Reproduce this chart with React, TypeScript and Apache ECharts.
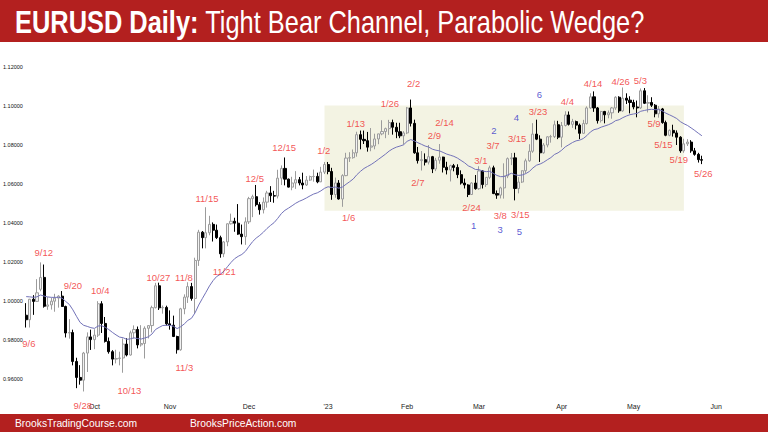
import React, { useEffect, useRef } from "react";
import * as echarts from "echarts";

// Daily bars [open, high, low, close], one per weekday
const sep22 = [
  [0.9927, 0.9989, 0.9864, 0.9904], [0.9904, 1.0011, 0.9864, 1.0009], [1.0009, 1.003, 0.9929, 0.9998],
  [0.9998, 1.0112, 0.9995, 1.0042], [1.006, 1.0198, 1.005, 1.0121], [1.0121, 1.0187, 0.9966, 0.9973],
  [0.9973, 1.002, 0.9955, 0.998], [0.998, 1.0017, 0.9956, 0.9999], [0.9999, 1.0037, 0.9945, 1.0015],
  [1.0015, 1.003, 0.9966, 1.0025], [1.0025, 1.0051, 0.997, 0.9972], [0.9972, 0.9976, 0.9813, 0.9836],
  [0.9836, 0.9907, 0.9807, 0.9838], [0.9838, 0.9853, 0.967, 0.969], [0.969, 0.9709, 0.9553, 0.9608],
  [0.9608, 0.9671, 0.9571, 0.9594], [0.9594, 0.9739, 0.9536, 0.9733], [0.9733, 0.9839, 0.9636, 0.9816],
  [0.9816, 0.9853, 0.9749, 0.9802],
];
const oct22 = [
  [0.9802, 0.9855, 0.9753, 0.9825], [0.9825, 0.9999, 0.9815, 0.9986], [0.9986, 0.9999, 0.9836, 0.9885],
  [0.9885, 0.9918, 0.9787, 0.9793], [0.9793, 0.9813, 0.973, 0.974], [0.974, 0.9748, 0.967, 0.9702],
  [0.9702, 0.975, 0.968, 0.9705], [0.9705, 0.974, 0.967, 0.9708], [0.9708, 0.9808, 0.9632, 0.9779],
  [0.9779, 0.9809, 0.9716, 0.9723], [0.9723, 0.9848, 0.972, 0.9837], [0.9837, 0.9875, 0.9808, 0.9854],
  [0.9854, 0.9869, 0.9757, 0.9775], [0.9775, 0.9876, 0.9766, 0.9782], [0.9782, 0.987, 0.9705, 0.986],
  [0.986, 0.9875, 0.9808, 0.9874], [0.9874, 0.9976, 0.9839, 0.9966], [0.9966, 1.0093, 0.9962, 1.0078],
  [1.0078, 1.0094, 0.9954, 0.9965], [0.9965, 0.9977, 0.9935, 0.9967], [0.9967, 0.9976, 0.9874, 0.9883],
];
const nov22 = [
  [0.9883, 0.9952, 0.9853, 0.9876], [0.9876, 0.9925, 0.9815, 0.9818], [0.9818, 0.9822, 0.973, 0.975],
  [0.975, 0.9965, 0.9745, 0.996], [0.996, 1.0034, 0.9932, 1.002], [1.002, 1.0096, 0.999, 1.0074],
  [1.0074, 1.0093, 1.0002, 1.0013], [1.0013, 1.0222, 0.9935, 1.0208], [1.0208, 1.0365, 1.018, 1.0353],
  [1.0353, 1.0359, 1.027, 1.0325], [1.0325, 1.0481, 1.027, 1.035], [1.035, 1.0437, 1.0337, 1.0393],
  [1.0393, 1.0403, 1.0305, 1.0363], [1.0363, 1.0392, 1.0318, 1.0325], [1.0325, 1.0335, 1.0222, 1.0242],
  [1.0242, 1.0307, 1.0225, 1.0303], [1.0303, 1.0398, 1.0281, 1.0396], [1.0396, 1.0448, 1.0392, 1.0409],
  [1.0409, 1.0427, 1.0355, 1.0399], [1.0399, 1.0497, 1.0339, 1.0343], [1.0343, 1.0392, 1.029, 1.033],
  [1.033, 1.0429, 1.0288, 1.0406],
];
const dec22 = [
  [1.0406, 1.0534, 1.0395, 1.0525], [1.0525, 1.0545, 1.043, 1.0535], [1.0535, 1.0595, 1.0485, 1.0494],
  [1.0494, 1.0507, 1.0443, 1.0468], [1.0468, 1.0531, 1.0449, 1.0507], [1.0507, 1.0565, 1.0479, 1.0554],
  [1.0554, 1.0589, 1.0508, 1.054], [1.054, 1.0565, 1.0504, 1.0538], [1.0538, 1.0673, 1.0526, 1.063],
  [1.063, 1.0695, 1.0595, 1.068], [1.068, 1.0736, 1.0593, 1.0625], [1.0625, 1.0628, 1.0582, 1.0584],
  [1.0584, 1.0637, 1.0568, 1.0605], [1.0605, 1.0666, 1.0575, 1.0622], [1.0622, 1.0636, 1.0593, 1.0605],
  [1.0605, 1.0658, 1.0573, 1.0595], [1.0595, 1.0641, 1.059, 1.062], [1.062, 1.0643, 1.0616, 1.0638],
  [1.0638, 1.0674, 1.0612, 1.0639], [1.0639, 1.0658, 1.0604, 1.0611], [1.0611, 1.0688, 1.061, 1.0661],
  [1.0661, 1.0713, 1.0651, 1.07],
];
const jan23 = [
  [1.07, 1.0713, 1.065, 1.0664], [1.0664, 1.0683, 1.0519, 1.0546], [1.0546, 1.0633, 1.053, 1.0605],
  [1.0605, 1.062, 1.052, 1.0523], [1.0523, 1.065, 1.0483, 1.0643], [1.0643, 1.076, 1.064, 1.0733],
  [1.0733, 1.0763, 1.0713, 1.0735], [1.0735, 1.0777, 1.073, 1.076], [1.076, 1.0868, 1.074, 1.0853],
  [1.0853, 1.0874, 1.0778, 1.0829], [1.0829, 1.0874, 1.0805, 1.0822], [1.0822, 1.0867, 1.0766, 1.0789],
  [1.0789, 1.0887, 1.0768, 1.0795], [1.0795, 1.0858, 1.0778, 1.0831], [1.0831, 1.0858, 1.0804, 1.0857],
  [1.0857, 1.0927, 1.085, 1.0869], [1.0869, 1.0889, 1.0835, 1.0884], [1.0884, 1.0929, 1.0852, 1.0915],
  [1.0915, 1.093, 1.0853, 1.0891], [1.0891, 1.0914, 1.0835, 1.0868], [1.0868, 1.0914, 1.0835, 1.0847],
  [1.0847, 1.0871, 1.0802, 1.0862],
];
const feb23 = [
  [1.0862, 1.0995, 1.0856, 1.099], [1.099, 1.1033, 1.0895, 1.0911], [1.0911, 1.093, 1.0755, 1.076],
  [1.076, 1.079, 1.0705, 1.072], [1.072, 1.0769, 1.0669, 1.0725], [1.0725, 1.0757, 1.0695, 1.0712],
  [1.0712, 1.08, 1.07, 1.074], [1.074, 1.0744, 1.0656, 1.0677], [1.0677, 1.0734, 1.0666, 1.0722],
  [1.0722, 1.0805, 1.0704, 1.0738], [1.0738, 1.074, 1.0659, 1.0686], [1.0686, 1.0714, 1.0649, 1.0672],
  [1.0672, 1.0699, 1.0613, 1.0694], [1.0694, 1.0703, 1.0665, 1.0685], [1.0685, 1.0701, 1.063, 1.0648],
  [1.0648, 1.067, 1.0597, 1.0605], [1.0605, 1.0628, 1.0577, 1.0595], [1.0595, 1.0599, 1.0533, 1.0546],
  [1.0546, 1.0609, 1.0544, 1.0605], [1.0605, 1.0646, 1.0571, 1.0576],
];
const mar23 = [
  [1.0576, 1.0691, 1.057, 1.0667], [1.0667, 1.0671, 1.0577, 1.0597], [1.0597, 1.0635, 1.0585, 1.0634],
  [1.0634, 1.0694, 1.0625, 1.0683], [1.0683, 1.0694, 1.0548, 1.0551], [1.0551, 1.0567, 1.0524, 1.0543],
  [1.0543, 1.0586, 1.0526, 1.058], [1.058, 1.0706, 1.0525, 1.0641], [1.0641, 1.0736, 1.063, 1.073],
  [1.073, 1.0759, 1.0697, 1.0734], [1.0734, 1.076, 1.0516, 1.0577], [1.0577, 1.0635, 1.0552, 1.061],
  [1.061, 1.067, 1.0605, 1.0668], [1.0668, 1.073, 1.0654, 1.0719], [1.0719, 1.0804, 1.0714, 1.0768],
  [1.0768, 1.0912, 1.076, 1.0856], [1.0856, 1.093, 1.0825, 1.083], [1.083, 1.085, 1.0713, 1.076],
  [1.076, 1.081, 1.0755, 1.08], [1.08, 1.0845, 1.0788, 1.0842], [1.0842, 1.0852, 1.0812, 1.0843],
  [1.0843, 1.0925, 1.0836, 1.0904], [1.0904, 1.0924, 1.083, 1.084],
];
const apr23 = [
  [1.084, 1.0918, 1.0788, 1.09], [1.09, 1.0973, 1.0895, 1.0954], [1.0954, 1.0972, 1.09, 1.0906],
  [1.0906, 1.0934, 1.0888, 1.092], [1.092, 1.0925, 1.088, 1.0902], [1.0902, 1.091, 1.083, 1.086],
  [1.086, 1.0929, 1.0858, 1.091], [1.091, 1.0998, 1.0905, 1.099], [1.099, 1.1065, 1.0985, 1.1047],
  [1.1047, 1.1075, 1.097, 1.099], [1.099, 1.0995, 1.091, 1.0925], [1.0925, 1.0975, 1.0915, 1.0972],
  [1.0972, 1.0975, 1.0911, 1.0955], [1.0955, 1.0977, 1.0937, 1.0965], [1.0965, 1.0995, 1.0935, 1.099],
  [1.099, 1.105, 1.098, 1.1045], [1.1045, 1.105, 1.0965, 1.0975], [1.0975, 1.1095, 1.097, 1.104],
  [1.104, 1.1065, 1.101, 1.103], [1.103, 1.105, 1.0962, 1.1018],
];
const may23 = [
  [1.1018, 1.1032, 1.0983, 1.0995], [1.0995, 1.1028, 1.0942, 1.099], [1.099, 1.109, 1.0985, 1.1078],
  [1.1078, 1.1092, 1.101, 1.1014], [1.1014, 1.1055, 1.0967, 1.1018], [1.1018, 1.1045, 1.0995, 1.1004],
  [1.1004, 1.101, 1.0942, 1.096], [1.096, 1.1, 1.094, 1.0985], [1.0985, 1.099, 1.0909, 1.0915],
  [1.0915, 1.0925, 1.0845, 1.085], [1.085, 1.088, 1.0845, 1.0875], [1.0875, 1.0904, 1.0843, 1.0862],
  [1.0862, 1.0875, 1.08, 1.084], [1.084, 1.0845, 1.076, 1.077], [1.077, 1.0832, 1.076, 1.0806],
  [1.0806, 1.083, 1.0795, 1.0815], [1.0815, 1.0825, 1.076, 1.077], [1.077, 1.0785, 1.0745, 1.0752],
  [1.0752, 1.076, 1.071, 1.0725], [1.0725, 1.0745, 1.0702, 1.0722],
];

const firstDay = "2022-09-06";
const axisDays = 199;
const monthNames = ["'23", "Feb", "Mar", "Apr", "May", "Jun", "Jul", "Aug", "Sep", "Oct", "Nov", "Dec"];
const yTicks = [0.96, 0.98, 1.0, 1.02, 1.04, 1.06, 1.08, 1.1, 1.12];
const maPeriod = 20;
const maSeed = 1.0035;

// trading range box
const boxStart = "2022-12-30";
const boxEnd = "2023-05-19";
const boxTop = 1.1003;
const boxBottom = 1.0463;

// annotations: [text, bar index position, price]
const redLabels: [string, number, number][] = [
  ["9/6", 0.75, 0.9783], ["9/12", 4.9, 1.0248], ["9/20", 13.0, 1.0082], ["10/4", 20.6, 1.0053],
  ["9/28", 15.75, 0.9463], ["10/13", 28.7, 0.954], ["10/27", 36.8, 1.012], ["11/8", 43.9, 1.012],
  ["11/3", 44.0, 0.9658], ["11/15", 50.3, 1.0527], ["11/21", 55.1, 1.0149], ["12/5", 63.6, 1.0629],
  ["12/15", 71.8, 1.0785], ["1/2", 82.8, 1.0773], ["1/6", 89.7, 1.0427], ["1/13", 91.7, 1.0911],
  ["1/26", 101.2, 1.1012], ["2/2", 107.8, 1.1116], ["2/14", 116.4, 1.0915], ["2/9", 113.6, 1.0849],
  ["2/7", 109.0, 1.0609], ["2/24", 123.9, 1.048], ["3/1", 126.5, 1.072], ["3/7", 129.9, 1.0795],
  ["3/15", 136.6, 1.0832], ["3/8", 131.9, 1.0441], ["3/15", 137.5, 1.0445], ["3/23", 142.4, 1.0974],
  ["4/4", 150.6, 1.1024], ["4/14", 157.7, 1.1116], ["4/26", 165.4, 1.1125], ["5/3", 170.9, 1.113],
  ["5/9", 174.7, 1.0909], ["5/15", 177.3, 1.0804], ["5/19", 181.6, 1.0728], ["5/26", 188.4, 1.0655],
];
const blueLabels: [string, number, number][] = [
  ["1", 124.5, 1.0386], ["2", 130.1, 1.0872], ["3", 131.9, 1.0367],
  ["4", 136.4, 1.0941], ["5", 137.2, 1.0354], ["6", 142.8, 1.106],
];

const RED = "#b3201f";

function buildCategories(): string[] {
  const out: string[] = [];
  const [y, m, d] = firstDay.split("-").map(Number);
  let t = Date.UTC(y, m - 1, d);
  while (out.length < axisDays) {
    const dt = new Date(t);
    const wd = dt.getUTCDay();
    if (wd !== 0 && wd !== 6) out.push(dt.toISOString().slice(0, 10));
    t += 86400000;
  }
  return out;
}

export default function App() {
  const ref = useRef<HTMLDivElement>(null);
  useEffect(() => {
    if (!ref.current) return;
    const chart = echarts.init(ref.current, null, { renderer: "svg" });
    const cats = buildCategories();
    const bars = [...sep22, ...oct22, ...nov22, ...dec22, ...jan23, ...feb23, ...mar23, ...apr23, ...may23];
    const candle = bars.map(([o, h, l, c]) => [o, c, l, h]);
    const alpha = 2 / (maPeriod + 1);
    let e = maSeed;
    const ema = bars.map((b) => {
      e = e + alpha * (b[3] - e);
      return +e.toFixed(5);
    });
    const monthStart = cats.map((c, i) => i > 0 && c.slice(5, 7) !== cats[i - 1].slice(5, 7));
    const gridLeft = 23.2;
    const gridRight = 28.4;
    const gridTop = 50;
    const gridBottom = 33.5;
    const yMin = 0.95;
    const yMax = 0.95 + (432 - gridTop - gridBottom) / 1950;
    const labelFont = "'Liberation Sans', Arial, sans-serif";
    const mkLabels = (arr: [string, number, number][], color: string) => ({
      type: "scatter",
      xAxisIndex: 1,
      yAxisIndex: 0,
      silent: true,
      clip: false,
      symbolSize: 1,
      itemStyle: { color: "rgba(0,0,0,0)" },
      z: 10,
      label: {
        show: true,
        position: "inside",
        formatter: "{b}",
        color,
        fontSize: 9.5,
        fontFamily: labelFont,
      },
      data: arr.map(([t, x, y]) => ({ name: t, value: [x, y] })),
    });
    chart.setOption({
      animation: false,
      backgroundColor: "#ffffff",
      grid: { left: gridLeft, right: gridRight, top: gridTop, bottom: gridBottom, containLabel: false },
      xAxis: [
        {
          type: "category",
          data: cats,
          boundaryGap: true,
          axisLine: { show: false },
          axisTick: { show: false },
          splitLine: { show: false },
          axisLabel: {
            interval: (i: number) => monthStart[i],
            formatter: (v: string) => monthNames[Number(v.slice(5, 7)) - 1],
            fontSize: 7,
            color: "#222",
            margin: 4,
            fontFamily: labelFont,
          },
        },
        { type: "value", min: -0.5, max: axisDays - 0.5, show: false },
      ],
      yAxis: {
        type: "value",
        min: yMin,
        max: yMax,
        axisLine: { show: false },
        axisTick: { show: false },
        splitLine: { show: false },
        axisLabel: {
          customValues: yTicks,
          formatter: (v: number) => v.toFixed(5),
          fontSize: 5.5,
          color: "#111",
          margin: 1.5,
          fontFamily: labelFont,
        },
      },
      series: [
        {
          type: "candlestick",
          data: candle,
          barWidth: 2.6,
          itemStyle: {
            color: "#f2f2f2",
            borderColor: "#9c9c9c",
            color0: "#000000",
            borderColor0: "#000000",
            borderWidth: 1,
          },
          markArea: {
            silent: true,
            itemStyle: { color: "#f3f3e3" },
            data: [[{ xAxis: boxStart, yAxis: boxTop }, { xAxis: boxEnd, yAxis: boxBottom }]],
          },
        },
        {
          type: "line",
          data: ema,
          showSymbol: false,
          symbol: "none",
          silent: true,
          z: 4,
          lineStyle: { color: "#7272b8", width: 1 },
        },
        mkLabels(redLabels, "#f02a2a"),
        mkLabels(blueLabels, "#3030c8"),
      ],
      graphic: [
        { type: "rect", shape: { x: 0, y: 0, width: 768, height: 42 }, style: { fill: RED }, z: 100 },
        {
          type: "text",
          x: 15,
          y: 22,
          scaleX: 0.82,
          z: 101,
          style: {
            text: "{b|EURUSD Daily:}{n| Tight Bear Channel, Parabolic Wedge?}",
            verticalAlign: "middle",
            rich: {
              b: { fontSize: 31, fontWeight: "bold", fill: "#ffffff", fontFamily: labelFont },
              n: { fontSize: 31, fill: "#ffffff", fontFamily: labelFont },
            },
          },
        },
        { type: "rect", shape: { x: 0, y: 414, width: 768, height: 18 }, style: { fill: RED }, z: 100 },
        {
          type: "text",
          x: 15,
          y: 423,
          z: 101,
          style: { text: "BrooksTradingCourse.com", fill: "#ffffff", fontSize: 10.3, fontFamily: labelFont, verticalAlign: "middle" },
        },
        {
          type: "text",
          x: 190,
          y: 423,
          z: 101,
          style: { text: "BrooksPriceAction.com", fill: "#ffffff", fontSize: 10.3, fontFamily: labelFont, verticalAlign: "middle" },
        },
      ],
    });
    return () => chart.dispose();
  }, []);
  return (
    <div
      ref={ref}
      style={{ position: "fixed", left: 0, top: 0, width: 768, height: 432, background: "#ffffff" }}
    />
  );
}
